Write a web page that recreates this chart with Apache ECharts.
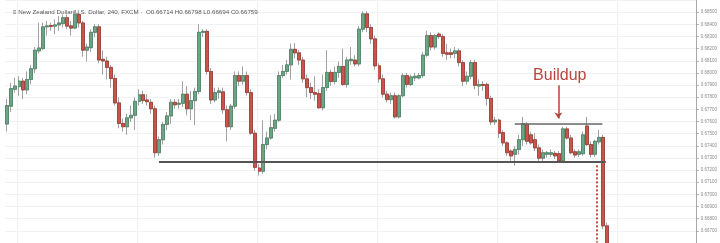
<!DOCTYPE html>
<html><head><meta charset="utf-8">
<script src="https://cdn.jsdelivr.net/npm/echarts@6/dist/echarts.min.js"></script>
<style>html,body{margin:0;padding:0;background:#fff}#c{width:720px;height:243px}</style>
</head><body><div id="c"></div>
<script>
const opens = [0.67579,0.67726,0.67865,0.67887,0.67932,0.67860,0.67946,0.68034,0.68181,0.68200,
0.68379,0.68390,0.68385,0.68395,0.68406,0.68454,0.68387,0.68369,0.68481,0.68411,
0.68187,0.68208,0.68334,0.68379,0.68112,0.68098,0.68045,0.67954,0.67753,0.67584,
0.67557,0.67630,0.67651,0.67766,0.67820,0.67777,0.67758,0.67705,0.67343,0.67450,
0.67576,0.67646,0.67758,0.67742,0.67750,0.67825,0.67705,0.67772,0.67847,0.68334,
0.68342,0.68012,0.67777,0.67838,0.67844,0.67697,0.67557,0.67726,0.67978,0.67932,
0.67978,0.67838,0.67504,0.67217,0.67191,0.67410,0.67464,0.67544,0.67611,0.67978,
0.68012,0.68066,0.68194,0.68165,0.68106,0.67951,0.67879,0.67838,0.67830,0.67713,
0.67879,0.68004,0.67929,0.68004,0.68053,0.67905,0.68101,0.68106,0.68074,0.68360,
0.68486,0.68374,0.68280,0.68058,0.67951,0.67825,0.67780,0.67812,0.67638,0.67812,
0.67978,0.67905,0.67959,0.67959,0.67978,0.68146,0.68307,0.68213,0.68320,0.68299,
0.68165,0.68165,0.68160,0.68181,0.68085,0.67932,0.67972,0.68085,0.67892,0.67905,
0.67905,0.67790,0.67597,0.67611,0.67509,0.67424,0.67357,0.67330,0.67370,0.67450,
0.67576,0.67490,0.67450,0.67383,0.67298,0.67330,0.67330,0.67338,0.67335,0.67276,
0.67539,0.67464,0.67351,0.67330,0.67335,0.67563,0.67410,0.67330,0.67432,0.67469,
0.66741];
const closes = [0.67731,0.67871,0.67892,0.67932,0.67860,0.67946,0.68034,0.68187,0.68205,0.68379,
0.68387,0.68382,0.68395,0.68411,0.68454,0.68385,0.68369,0.68481,0.68411,0.68187,
0.68213,0.68334,0.68379,0.68106,0.68098,0.68045,0.67954,0.67753,0.67584,0.67557,
0.67630,0.67651,0.67766,0.67820,0.67772,0.67763,0.67705,0.67343,0.67450,0.67576,
0.67646,0.67758,0.67737,0.67750,0.67825,0.67705,0.67772,0.67847,0.68334,0.68342,
0.68012,0.67777,0.67838,0.67852,0.67697,0.67557,0.67726,0.67978,0.67932,0.67978,
0.67838,0.67504,0.67223,0.67191,0.67410,0.67464,0.67549,0.67611,0.67978,0.68012,
0.68066,0.68194,0.68165,0.68106,0.67951,0.67879,0.67838,0.67825,0.67713,0.67879,
0.68004,0.67929,0.68004,0.68053,0.67905,0.68106,0.68112,0.68074,0.68360,0.68486,
0.68374,0.68280,0.68058,0.67951,0.67825,0.67780,0.67812,0.67638,0.67812,0.67978,
0.67905,0.67967,0.67972,0.67978,0.68146,0.68307,0.68213,0.68307,0.68299,0.68160,
0.68154,0.68152,0.68181,0.68085,0.67932,0.67972,0.68085,0.67897,0.67905,0.67897,
0.67790,0.67597,0.67611,0.67504,0.67424,0.67343,0.67317,0.67370,0.67450,0.67584,
0.67437,0.67424,0.67383,0.67298,0.67343,0.67343,0.67343,0.67317,0.67276,0.67539,
0.67464,0.67343,0.67324,0.67351,0.67490,0.67410,0.67330,0.67437,0.67469,0.66741,
0.66553];
const lows = [0.67517,0.67678,0.67838,0.67812,0.67785,0.67825,0.67905,0.67999,0.68160,0.68187,
0.68307,0.68347,0.68320,0.68347,0.68374,0.68360,0.68307,0.68360,0.68374,0.68133,
0.68093,0.68173,0.68294,0.68079,0.67986,0.67946,0.67879,0.67731,0.67544,0.67517,
0.67490,0.67597,0.67531,0.67731,0.67745,0.67731,0.67664,0.67303,0.67317,0.67410,
0.67531,0.67579,0.67705,0.67705,0.67718,0.67651,0.67611,0.67571,0.67825,0.68294,
0.67986,0.67745,0.67758,0.67785,0.67664,0.67437,0.67531,0.67705,0.67892,0.67905,
0.67812,0.67490,0.67196,0.67156,0.67169,0.67370,0.67450,0.67517,0.67597,0.67959,
0.67986,0.67946,0.68120,0.68066,0.67919,0.67798,0.67785,0.67772,0.67705,0.67691,
0.67852,0.67892,0.67905,0.67959,0.67892,0.67879,0.68066,0.68053,0.68053,0.68334,
0.68334,0.68240,0.68026,0.67919,0.67798,0.67758,0.67745,0.67624,0.67624,0.67798,
0.67879,0.67892,0.67932,0.67946,0.67959,0.68133,0.68187,0.68192,0.68280,0.68133,
0.68106,0.68120,0.68120,0.68053,0.67892,0.67905,0.67946,0.67865,0.67812,0.67852,
0.67731,0.67571,0.67571,0.67464,0.67397,0.67317,0.67276,0.67236,0.67330,0.67397,
0.67410,0.67410,0.67357,0.67276,0.67276,0.67303,0.67308,0.67290,0.67263,0.67263,
0.67450,0.67330,0.67303,0.67308,0.67317,0.67397,0.67303,0.67308,0.67410,0.66714,
0.66527];
const highs = [0.67785,0.67919,0.67959,0.67972,0.67959,0.68012,0.68066,0.68213,0.68414,0.68414,
0.68427,0.68414,0.68441,0.68468,0.68481,0.68481,0.68427,0.68508,0.68494,0.68427,
0.68240,0.68360,0.68401,0.68401,0.68187,0.68133,0.68066,0.67986,0.67798,0.67624,
0.67664,0.67731,0.67798,0.67865,0.67852,0.67825,0.67785,0.67731,0.67477,0.67597,
0.67678,0.67785,0.67785,0.67785,0.67932,0.67892,0.67852,0.67879,0.68401,0.68360,
0.68360,0.68039,0.67879,0.67879,0.67879,0.67731,0.67745,0.68012,0.68012,0.68053,
0.68012,0.67865,0.67531,0.67250,0.67611,0.67517,0.67651,0.67664,0.68012,0.68066,
0.68106,0.68240,0.68245,0.68187,0.68133,0.67986,0.67919,0.67972,0.67865,0.67986,
0.68187,0.68026,0.68053,0.68093,0.68200,0.68133,0.68213,0.68146,0.68387,0.68508,
0.68508,0.68401,0.68307,0.68079,0.67986,0.67852,0.67838,0.67838,0.67825,0.67999,
0.67999,0.67986,0.67999,0.67999,0.68173,0.68347,0.68334,0.68320,0.68334,0.68320,
0.68240,0.68200,0.68213,0.68200,0.68106,0.68012,0.68106,0.68106,0.67946,0.67932,
0.67919,0.67812,0.67638,0.67624,0.67531,0.67437,0.67370,0.67397,0.67490,0.67638,
0.67597,0.67517,0.67504,0.67410,0.67370,0.67357,0.67370,0.67357,0.67357,0.67557,
0.67557,0.67490,0.67370,0.67370,0.67517,0.67638,0.67437,0.67450,0.67531,0.67490,
0.66768];
const TOTAL_SLOTS = 173;            // visible bar slots incl. empty right margin
const yTickMin = 0.666, yTickMax = 0.686, yTickStep = 0.001;
const titleText = '≡ New Zealand Dollar/U.S. Dollar, 240, FXCM ·  O0.66714 H0.66798 L0.66694 C0.66759';
const timeGridSlots = [2.5, 32.5, 62.5, 92.5, 122.5, 152.5];   // vertical time grid (slot boundaries)
const supportLevel = 0.67265, supportFrom = 38, supportTo = 149.75;
const rangeTop = 0.67584, rangeFrom = 127, rangeTo = 148.9;
const arrowX = 137.9, arrowFrom = 0.67898, arrowTo = 0.67625;
const labelX = 138.25, labelY = 0.67978, labelText = 'Buildup';
const breakX = 147.6, breakFrom = 0.67239, breakTo = 0.66605;

const categories = [];
for (let i = 0; i < TOTAL_SLOTS; i++) categories.push(String(i + 1));
const full = opens.map((o, i) => [o, closes[i], lows[i], highs[i]]);
const bodies = opens.map((o, i) => [o, closes[i], Math.min(o, closes[i]), Math.max(o, closes[i])]);

const RED = '#b9453b';
const gridLines = timeGridSlots.map(v => ({xAxis: v, lineStyle: {color: '#eef0f3', width: 1, type: 'solid'}}));
const chart = echarts.init(document.getElementById('c'), null, {renderer: 'canvas'});
chart.setOption({
  animation: false,
  backgroundColor: '#ffffff',
  textStyle: {fontFamily: 'Liberation Sans, Arial, sans-serif'},
  title: {text: titleText, left: 8, top: 4, textStyle: {fontSize: 6.2, fontWeight: 'normal', color: '#555', fontFamily: 'Liberation Sans'}},
  grid: {left: 5, right: 23, top: -1.45, bottom: -4.55},
  xAxis: [{
    type: 'category', data: categories, boundaryGap: true,
    axisLine: {show: false}, axisTick: {show: false}, axisLabel: {show: false}, splitLine: {show: false}
  }, {
    type: 'value', min: -0.5, max: TOTAL_SLOTS - 0.5, show: false
  }],
  yAxis: {
    type: 'value', position: 'right', min: yTickMin, max: yTickMax, interval: yTickStep, scale: true,
    axisLine: {show: true, onZero: false, lineStyle: {color: '#a8a8a8', width: 1}},
    axisTick: {show: true, length: 2, lineStyle: {color: '#a8a8a8'}},
    axisLabel: {show: true, showMinLabel: false, showMaxLabel: false, fontSize: 4.5, color: '#888', margin: 4,
      formatter: v => v.toFixed(5)},
    splitLine: {show: true, lineStyle: {color: '#f1f2f4', width: 1}}
  },
  series: [{
    type: 'line', xAxisIndex: 1, data: [], silent: true, z: 0,
    markLine: {silent: true, symbol: ['none', 'none'], label: {show: false}, animation: false, data: gridLines}
  }, {
    type: 'candlestick', data: full, barWidth: 3, clip: true,
    itemStyle: {color: '#6ba583', color0: '#c9554a', borderColor: '#a2a2a2', borderColor0: '#a2a2a2', borderWidth: 1}
  }, {
    type: 'candlestick', data: bodies, barWidth: 3, clip: true,
    itemStyle: {color: '#6ba583', color0: '#c9554a', borderColor: '#4b8466', borderColor0: '#9e3b31', borderWidth: 0.8}
  }, {
    type: 'line', xAxisIndex: 1, data: [], silent: true,
    markLine: {
      silent: true, symbol: ['none', 'none'], label: {show: false}, animation: false,
      data: [
        [{coord: [supportFrom, supportLevel], lineStyle: {color: '#555', width: 2, type: 'solid'}}, {coord: [supportTo, supportLevel]}],
        [{coord: [rangeFrom, rangeTop], lineStyle: {color: '#666', width: 1.5, type: 'solid'}}, {coord: [rangeTo, rangeTop]}],
        [{coord: [arrowX, arrowFrom], symbol: 'none', lineStyle: {color: RED, width: 1.5, type: 'solid'}}, {coord: [arrowX, arrowTo], symbol: 'arrow', symbolSize: [6, 6]}],
        [{coord: [breakX, breakFrom], lineStyle: {color: '#c2473d', width: 2, type: [2, 2]}}, {coord: [breakX, breakTo]}]
      ]
    },
    markPoint: {
      silent: true, symbol: 'circle', symbolSize: 0, animation: false,
      data: [{coord: [labelX, labelY], label: {show: true, position: 'inside', formatter: labelText, fontSize: 16, color: RED, fontFamily: 'Liberation Sans'}}]
    }
  }]
});
</script></body></html>
